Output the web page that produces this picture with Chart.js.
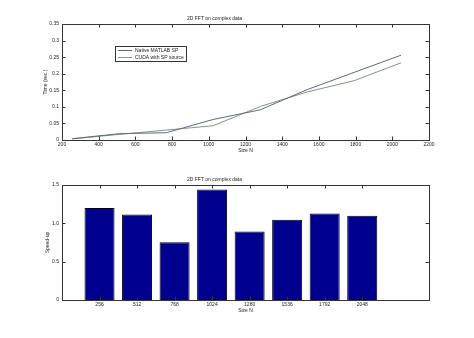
<!DOCTYPE html>
<html>
<head>
<meta charset="utf-8">
<script src="https://cdn.jsdelivr.net/npm/chart.js@4.4.1/dist/chart.umd.min.js"></script>
<style>
  body { margin: 0; background: #fff; }
  #wrap { position: relative; width: 474px; height: 338px; }
  .box { position: absolute; left: 0; width: 474px; height: 169px; }
</style>
</head>
<body>
<div id="wrap">
  <div class="box" style="top:0"><canvas id="timeChart" width="474" height="169"></canvas></div>
  <div class="box" style="top:169px"><canvas id="speedChart" width="474" height="169"></canvas></div>
</div>
<script>
'use strict';

// sizes N
const sizes = [256, 512, 768, 1024, 1280, 1536, 1792, 2048];
// time in seconds
const nativeTimes = [0.004, 0.019, 0.022, 0.062, 0.091, 0.152, 0.204, 0.256];
const cudaTimes = [0.0033, 0.017, 0.030, 0.043, 0.101, 0.145, 0.179, 0.233];
// speed-up
const speedUp = [1.20, 1.115, 0.752, 1.44, 0.895, 1.046, 1.128, 1.098];

const timeXTicks = [200, 400, 600, 800, 1000, 1200, 1400, 1600, 1800, 2000, 2200];
const timeYTicks = [0, 0.05, 0.1, 0.15, 0.2, 0.25, 0.3, 0.35];
const speedYTicks = [0, 0.5, 1, 1.5];
const barLabels = ['256', '512', '768', '1024', '1280', '1536', '1792', '2048'];

const FONT = 'Liberation Sans, Arial, sans-serif';
const txt = '#222';

// matlab style box with inward ticks
const boxPlugin = {
  id: 'matBox',
  afterDraw(chart) {
    const ctx = chart.ctx;
    const a = chart.chartArea;
    const xs = chart.scales.x;
    const ys = chart.scales.y;
    const len = 3.5;
    ctx.save();
    ctx.strokeStyle = '#333';
    ctx.lineWidth = 1;
    ctx.strokeRect(Math.round(a.left) + 0.5, Math.round(a.top) + 0.5, Math.round(a.right - a.left), Math.round(a.bottom - a.top));
    ctx.beginPath();
    xs.ticks.forEach(t => {
      let px = Math.round(xs.getPixelForValue(t.value)) + 0.5;
      ctx.moveTo(px, a.bottom); ctx.lineTo(px, a.bottom - len);
      ctx.moveTo(px, a.top); ctx.lineTo(px, a.top + len);
    });
    ys.ticks.forEach(t => {
      let py = Math.round(ys.getPixelForValue(t.value)) + 0.5;
      ctx.moveTo(a.left, py); ctx.lineTo(a.left + len, py);
      ctx.moveTo(a.right, py); ctx.lineTo(a.right - len, py);
    });
    ctx.stroke();
    ctx.restore();
  }
};

// legend box like matlab
const legendPlugin = {
  id: 'matLegend',
  afterDraw(chart, args, opts) {
    if (!opts.show) return;
    const ctx = chart.ctx;
    const a = chart.chartArea;
    const x0 = a.left + 53;
    const y0 = a.top + 22;
    const w = 71, h = 15;
    ctx.save();
    ctx.fillStyle = '#fff';
    ctx.fillRect(x0, y0, w, h);
    ctx.strokeStyle = '#333';
    ctx.lineWidth = 1;
    ctx.strokeRect(x0 + 0.5, y0 + 0.5, w, h);
    ctx.font = '5px ' + FONT;
    ctx.textBaseline = 'middle';
    chart.data.datasets.forEach((ds, i) => {
      const y = y0 + 4 + i * 7;
      ctx.strokeStyle = ds.borderColor;
      ctx.beginPath();
      ctx.moveTo(x0 + 3, y + 0.5);
      ctx.lineTo(x0 + 17, y + 0.5);
      ctx.stroke();
      ctx.fillStyle = txt;
      ctx.fillText(ds.label, x0 + 20, y + 0.5);
    });
    ctx.restore();
  }
};

function fixedTicks(arr) {
  return function (scale) {
    scale.ticks = arr.map(v => ({ value: v }));
  };
}

new Chart(document.getElementById('timeChart'), {
  type: 'line',
  data: {
    datasets: [
      {
        label: 'Native MATLAB SP',
        data: sizes.map((n, i) => ({ x: n, y: nativeTimes[i] })),
        borderColor: '#5d6786',
        borderWidth: 1,
        pointRadius: 0,
        tension: 0
      },
      {
        label: 'CUDA with SP source',
        data: sizes.map((n, i) => ({ x: n, y: cudaTimes[i] })),
        borderColor: '#83977f',
        borderWidth: 1,
        pointRadius: 0,
        tension: 0
      }
    ]
  },
  options: {
    responsive: false,
    animation: false,
    layout: { padding: { left: 0, right: 45, top: 0, bottom: 0 } },
    plugins: {
      legend: { display: false },
      tooltip: { enabled: false },
      title: {
        display: true,
        text: '2D FFT on complex data',
        color: txt,
        font: { family: FONT, size: 5, weight: 'normal' },
        padding: { top: 15.5, bottom: 2.5 }
      },
      matLegend: { show: true }
    },
    scales: {
      x: {
        type: 'linear',
        min: 200,
        max: 2200,
        afterBuildTicks: fixedTicks(timeXTicks),
        afterFit(scale) { scale.height = 29; },
        grid: { display: false, drawTicks: false },
        border: { display: false },
        ticks: { color: txt, font: { family: FONT, size: 5 }, padding: 2, maxRotation: 0, autoSkip: false,
          callback: v => String(v) },
        title: { display: true, text: 'Size N', color: txt, font: { family: FONT, size: 5 }, padding: { top: 0, bottom: 15 } }
      },
      y: {
        min: 0,
        max: 0.35,
        afterBuildTicks: fixedTicks(timeYTicks),
        afterFit(scale) { scale.width = 62; },
        grid: { display: false, drawTicks: false },
        border: { display: false },
        ticks: { color: txt, font: { family: FONT, size: 5 }, padding: 3, autoSkip: false,
          callback: v => String(+v.toFixed(2)) },
        title: { display: true, text: 'Time (sec.)', color: txt, font: { family: FONT, size: 5 }, padding: { top: 43, bottom: 0 } }
      }
    }
  },
  plugins: [boxPlugin, legendPlugin]
});

new Chart(document.getElementById('speedChart'), {
  type: 'bar',
  data: {
    datasets: [{
      label: 'Speed-up',
      data: speedUp.map((v, i) => ({ x: i + 1, y: v })),
      backgroundColor: '#00008f',
      borderColor: '#000022',
      borderWidth: 1,
      barPercentage: 0.8,
      categoryPercentage: 1
    }]
  },
  options: {
    responsive: false,
    animation: false,
    layout: { padding: { left: 0, right: 45, top: 0, bottom: 0 } },
    plugins: {
      legend: { display: false },
      tooltip: { enabled: false },
      title: {
        display: true,
        text: '2D FFT on complex data',
        color: txt,
        font: { family: FONT, size: 5, weight: 'normal' },
        padding: { top: 8, bottom: 2 }
      }
    },
    scales: {
      x: {
        type: 'linear',
        min: 0,
        max: 9.78,
        offset: false,
        afterBuildTicks: fixedTicks(barLabels.map((l, i) => i + 1)),
        afterFit(scale) { scale.height = 38; },
        grid: { display: false, drawTicks: false },
        border: { display: false },
        ticks: { color: txt, font: { family: FONT, size: 5 }, padding: 2, maxRotation: 0, autoSkip: false,
          callback: v => barLabels[v - 1] },
        title: { display: true, text: 'Size N', color: txt, font: { family: FONT, size: 5 }, padding: { top: 0, bottom: 24 } }
      },
      y: {
        min: 0,
        max: 1.5,
        afterBuildTicks: fixedTicks(speedYTicks),
        afterFit(scale) { scale.width = 62; },
        grid: { display: false, drawTicks: false },
        border: { display: false },
        ticks: { color: txt, font: { family: FONT, size: 5 }, padding: 3, autoSkip: false },
        title: { display: true, text: 'Speed-up', color: txt, font: { family: FONT, size: 5 }, padding: { top: 45, bottom: 0 } }
      }
    }
  },
  plugins: [boxPlugin]
});
</script>
</body>
</html>
